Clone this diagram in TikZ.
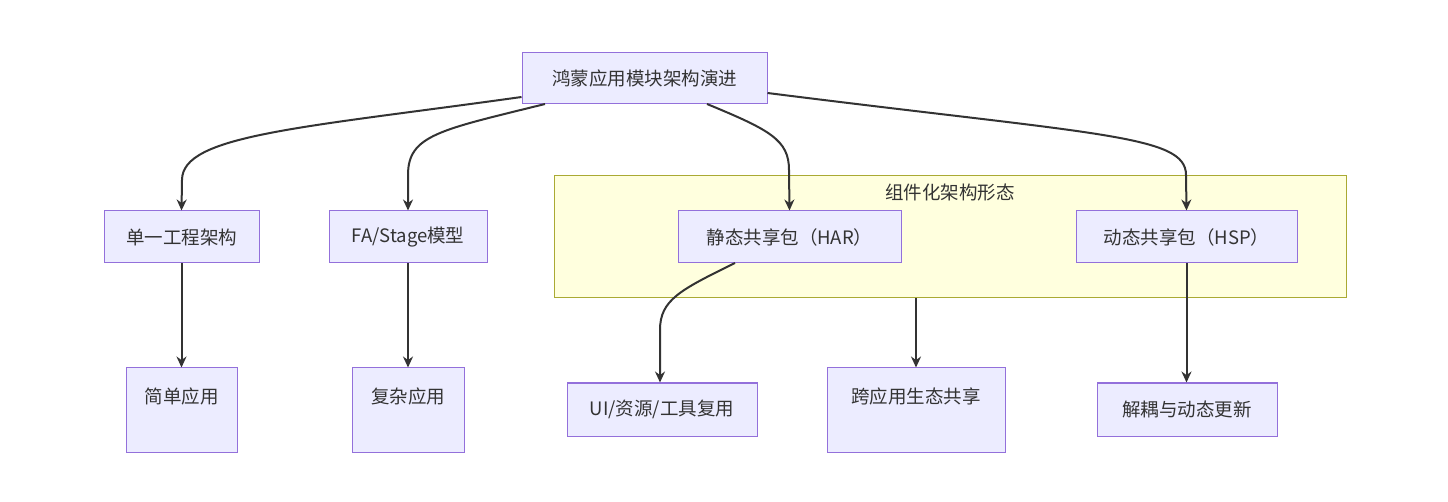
\documentclass[tikz,border=0pt]{standalone}
\usepackage{fontspec}
\setmainfont{Noto Sans CJK SC}
\usetikzlibrary{arrows.meta}
\definecolor{nfill}{HTML}{ECECFF}
\definecolor{nline}{HTML}{9370DB}
\definecolor{cfill}{HTML}{FFFFDE}
\definecolor{cline}{HTML}{AAAA33}
\definecolor{eline}{HTML}{333333}
\begin{document}
\begin{tikzpicture}[x=1pt,y=-1pt,
  box/.style={draw=nline,fill=nfill,line width=1pt,font=\fontsize{18.5}{22}\selectfont,text=eline},
  lbl/.style={font=\fontsize{18.5}{22}\selectfont,text=eline},
  edge/.style={draw=eline,line width=2pt,-{Stealth[length=11pt,width=10pt]}}]
\useasboundingbox[fill=white] (0,0) rectangle (1448,502);
\node[draw=cline,fill=cfill,line width=1pt,minimum width=792pt,minimum height=122pt,inner sep=0] (cl) at (950,237) {};
\node[lbl] (clt) at (950,192) {组件化架构形态};
\node[box,minimum width=245pt,minimum height=51pt] (top) at (644.5,78.5) {鸿蒙应用模块架构演进};
\node[box,minimum width=155pt,minimum height=52pt] (a) at (181.5,237) {单一工程架构};
\node[box,minimum width=158pt,minimum height=52pt] (b) at (408,237) {FA/Stage模型};
\node[box,minimum width=223pt,minimum height=52pt] (c) at (789.5,237) {静态共享包（HAR）};
\node[box,minimum width=221pt,minimum height=52pt] (d) at (1186.5,237) {动态共享包（HSP）};
\node[box,minimum width=111pt,minimum height=84pt] (e) at (181.5,410) {};
\node[lbl] at (181.5,396) {简单应用};
\node[box,minimum width=112pt,minimum height=84pt] (f) at (408,410) {};
\node[lbl] at (408,396) {复杂应用};
\node[box,minimum width=190pt,minimum height=53pt] (g) at (662,409.5) {UI/资源/工具复用};
\node[box,minimum width=178pt,minimum height=84pt] (h) at (916,410) {};
\node[lbl] at (916,396) {跨应用生态共享};
\node[box,minimum width=180pt,minimum height=53pt] (i) at (1187,409.5) {解耦与动态更新};
\draw[edge] (top.west |- 0,97) .. controls (300,128) and (182,135) .. (182,180) -- (a.north);
\draw[edge] (545,104) .. controls (440,130) and (408,135) .. (408,175) -- (b.north);
\draw[edge] (707,104) .. controls (770,130) and (789,140) .. (789,170) -- (c.north);
\draw[edge] (top.east |- 0,93) .. controls (1100,135) and (1186,135) .. (1186,175) -- (d.north);
\draw[edge] (a.south) -- (e.north);
\draw[edge] (b.south) -- (f.north);
\draw[edge] (735,263) .. controls (680,290) and (660,300) .. (660,330) -- (g.north -| 660,0);
\draw[edge] (cl.south -| h.north) -- (h.north);
\draw[edge] (d.south) -- (d.south |- i.north);
\end{tikzpicture}
\end{document}
